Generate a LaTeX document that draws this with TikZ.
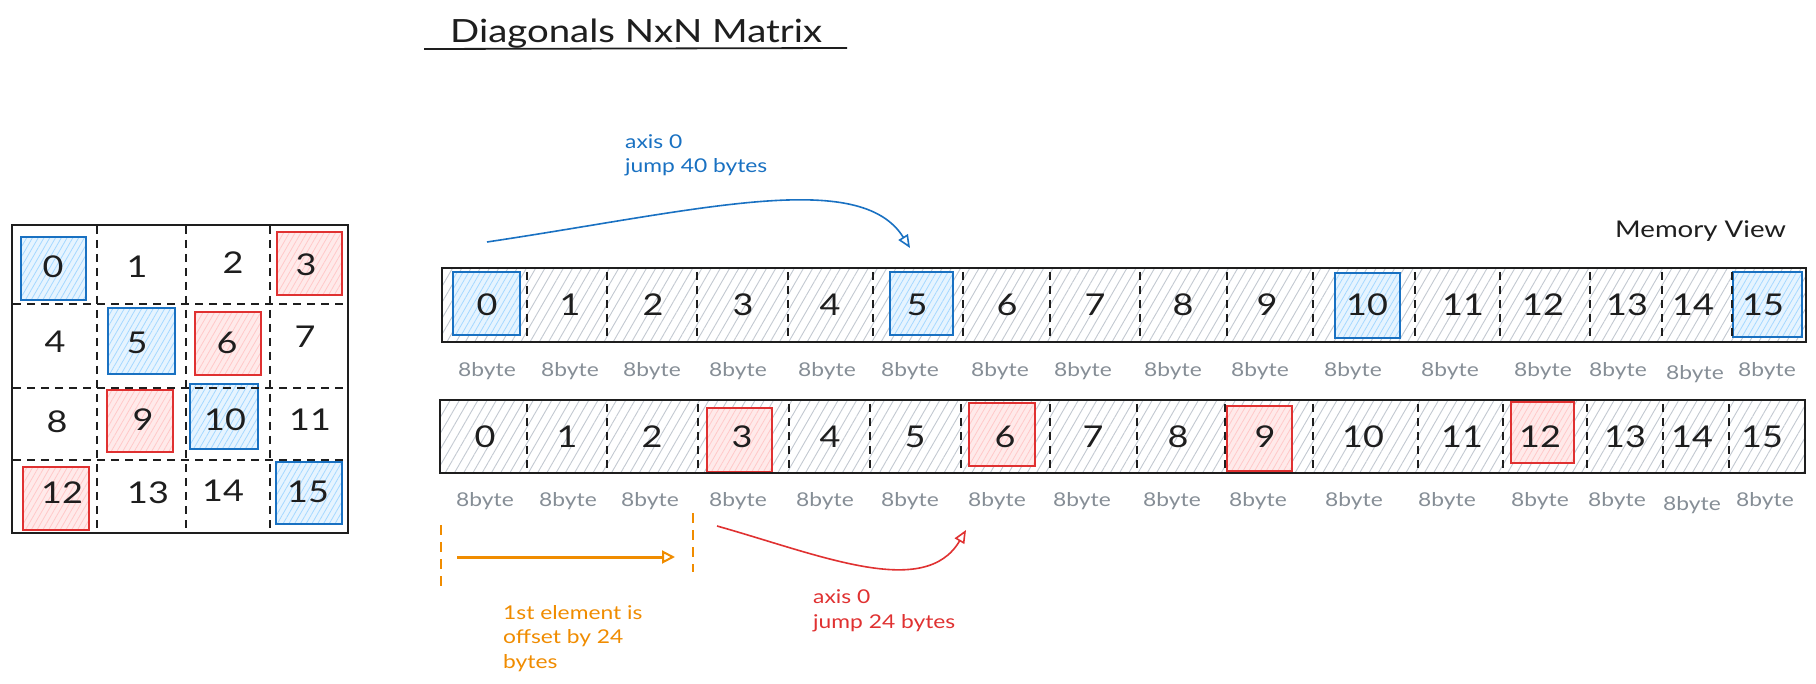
\documentclass[tikz,border=0pt]{standalone}
\usepackage{fontspec}
\setmainfont{Lato}[FakeStretch=1.2]
\usetikzlibrary{arrows.meta,patterns.meta}
\definecolor{ink}{HTML}{1E1E1E}
\definecolor{gblue}{HTML}{1971C2}
\definecolor{lblue}{HTML}{A5D8FF}
\definecolor{gred}{HTML}{E03131}
\definecolor{lred}{HTML}{FFC9C9}
\definecolor{gorange}{HTML}{F08C00}
\definecolor{ggray}{HTML}{868E96}
\definecolor{hgray}{HTML}{C3C9D1}
\begin{document}
\begin{tikzpicture}[x=1pt,y=-1pt,
  digit/.style={font=\fontsize{30}{30}\selectfont,text=ink,inner sep=0pt},
  bytelbl/.style={font=\fontsize{19}{19}\selectfont,text=ggray,inner sep=0pt,anchor=base},
  note/.style={font=\fontsize{19}{24.5}\selectfont,inner sep=0pt,align=left,anchor=base west},
  bluesq/.style={preaction={fill=lblue!28},preaction={pattern={Lines[angle=60,distance=5pt,line width=0.8pt]},pattern color=lblue},draw=gblue,line width=1.3pt},
  redsq/.style={preaction={fill=lred!38},preaction={pattern={Lines[angle=60,distance=5pt,line width=0.8pt]},pattern color=lred},draw=gred,line width=1.3pt},
  barfill/.style={pattern={Lines[angle=60,distance=8pt,line width=0.9pt]},pattern color=hgray},
  barline/.style={draw=ink,line width=2pt},
  divider/.style={draw=ink,line width=1.2pt,dash pattern=on 8pt off 6pt},
  arr/.style={line width=1.6pt,-{Triangle[open,length=13pt,width=11pt]}}
]
\useasboundingbox[fill=white] (0,0) rectangle (1816,684);

% ---------- title ----------
\node[font=\fontsize{32}{32}\selectfont,text=ink,inner sep=0pt,anchor=base west] (title) at (450,43) {Diagonals NxN Matrix};
\draw[ink,line width=1.8pt] (424,49) -- (847,48);

% ---------- matrix ----------
\foreach \a/\b/\c/\d in {21/237/86/300,108/308/175/374,190/384/258/449,276/462/342/524}
  \path[bluesq] (\a,\b) rectangle (\c,\d);
\foreach \a/\b/\c/\d in {277/232/342/295,195/312/261/375,107/390/173/452,23/467/89/530}
  \path[redsq] (\a,\b) rectangle (\c,\d);
\foreach \x in {97,186,270} \draw[divider] (\x,226) -- (\x,532);
\foreach \y in {304,388,460} \draw[divider] (13,\y) -- (347,\y);
\draw[ink,line width=1.8pt] (12,225) rectangle (348,533);
\foreach \n/\x/\y in {0/53/267,1/137/267,2/233/263,3/306/265,4/55/342,5/137/343,6/227/343,7/305/337,8/57/422,9/143/420,10/225/420,11/310/420,12/62/493,13/148/493,14/223/491,15/308/492}
  \node[digit] (m\n) at (\x,\y) {\n};

% ---------- memory view label ----------
\node[font=\fontsize{23}{23}\selectfont,text=ink,inner sep=0pt,anchor=base west] (memview) at (1615,238) {Memory View};

% ---------- top bar (axis 0, blue) ----------
\path[barfill] (442,268) rectangle (1806,342);
\foreach \a/\b/\c/\d in {453/272/520/335,890/272/953/335,1335/273/1400/338,1733/272/1802/337}
  \path[bluesq] (\a,\b) rectangle (\c,\d);
\foreach \x in {527,607,697,788,873,963,1050,1140,1227,1313,1415,1500,1590,1662,1732}
  \draw[divider] (\x,272) -- (\x,340);
\draw[barline] (442,268) rectangle (1806,342);
\foreach \n/\x in {0/487,1/570,2/653,3/743,4/830,5/917,6/1007,7/1095,8/1183,9/1267,10/1367,11/1463,12/1543,13/1627,14/1693,15/1763}
  \node[digit] (t\n) at (\x,305) {\n};
\foreach \n/\x/\y in {0/487/377,1/570/377,2/652/377,3/738/377,4/827/377,5/910/377,6/1000/377,7/1083/377,8/1173/377,9/1260/377,10/1353/377,11/1450/377,12/1543/377,13/1618/377,14/1695/380,15/1767/377}
  \node[bytelbl] (tl\n) at (\x,\y) {8byte};

% ---------- bottom bar (red) ----------
\path[barfill] (440,400) rectangle (1805,473);
\foreach \a/\b/\c/\d in {707/408/772/472,969/403/1035/466,1227/406/1292/471,1511/402/1574/463}
  \path[redsq] (\a,\b) rectangle (\c,\d);
\foreach \x in {527,607,698,789,870,961,1050,1137,1225,1313,1418,1503,1587,1663,1729}
  \draw[divider] (\x,404) -- (\x,471);
\draw[barline] (440,400) rectangle (1805,473);
\foreach \n/\x in {0/485,1/567,2/652,3/742,4/830,5/915,6/1005,7/1093,8/1178,9/1265,10/1363,11/1462,12/1540,13/1625,14/1692,15/1762}
  \node[digit] (b\n) at (\x,437) {\n};
\foreach \n/\x/\y in {0/485/507,1/568/507,2/650/507,3/738/507,4/825/507,5/910/507,6/997/507,7/1082/507,8/1172/507,9/1258/507,10/1354/507,11/1447/507,12/1540/507,13/1617/507,14/1692/511,15/1765/507}
  \node[bytelbl] (bl\n) at (\x,\y) {8byte};

% ---------- blue jump arrow ----------
\coordinate (bs) at (487,242);
\coordinate (be) at (910,248);
\draw[arr,gblue] (bs) .. controls (700,210) and (860,168) .. (be);
\node[note,text=gblue] (bnote) at (625,173) {axis 0\\jump 40 bytes};

% ---------- orange offset ----------
\coordinate (o1a) at (441,525); \coordinate (o1b) at (441,593);
\coordinate (o2a) at (693,513); \coordinate (o2b) at (693,572);
\coordinate (os) at (457,557); \coordinate (oe) at (675,557);
\draw[gorange,line width=1.4pt,dash pattern=on 10pt off 7pt] (o1a) -- (o1b);
\draw[gorange,line width=1.4pt,dash pattern=on 10pt off 7pt] (o2a) -- (o2b);
\draw[gorange,line width=3pt,-{Triangle[open,length=13pt,width=13pt,line width=2pt]}] (os) -- (oe);
\node[note,text=gorange] (onote) at (503,668) {1st element is\\offset by 24\\bytes};

% ---------- red jump arrow ----------
\coordinate (rs) at (717,526);
\coordinate (re) at (966,530);
\draw[arr,gred] (rs) .. controls (820,555) and (925,600) .. (re);
\node[note,text=gred] (rnote) at (813,628) {axis 0\\jump 24 bytes};
\end{tikzpicture}
\end{document}
